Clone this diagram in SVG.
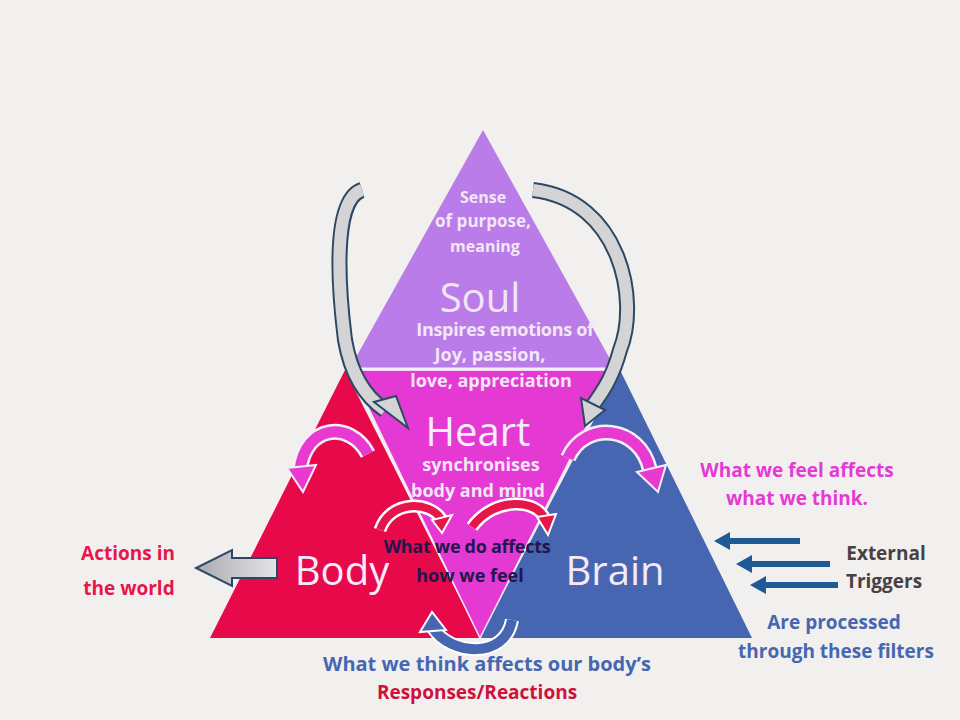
<svg xmlns="http://www.w3.org/2000/svg" width="960" height="720" viewBox="0 0 960 720">
<defs>
<linearGradient id="g" x1="0" y1="0" x2="1" y2="0"><stop offset="0" stop-color="#a9aab0"/><stop offset="1" stop-color="#e4e4e8"/></linearGradient>
<style>
text{font-family:"Open Sans","Noto Sans",sans-serif;text-anchor:middle}
.w{fill:#f3e6f7;font-weight:bold;font-size:16px}
.big{fill:#f5eaf8;font-size:40px}
.arcP{fill:none;stroke:#f2f0f8;stroke-width:16}
.arcPi{fill:none;stroke:#e83ad0;stroke-width:11}
.arcR{fill:none;stroke:#fff;stroke-width:13}
.arcRi{fill:none;stroke:#e8154a;stroke-width:8}
.ba{fill:#1f5a96}
.lb{font-weight:bold;font-size:19px}
</style>
</defs>
<rect width="960" height="720" fill="#f1f0ee"/>
<g id="soul"><polygon points="483,130 350,368 615,368" fill="#b97ce8"/>
<text class="w" x="483" y="203">Sense</text><text class="w" x="483" y="227" style="font-size:17px">of purpose,</text><text class="w" x="485" y="252">meaning</text>
<text class="big" x="480" y="312" style="fill:#f0e4f6">Soul</text>
<text class="w" x="505" y="336" style="font-size:18px;letter-spacing:-0.3px">Inspires emotions of</text><text class="w" x="490" y="361" style="font-size:18px">Joy, passion,</text></g>
<g id="body"><polygon points="345,370 210,638 480,638" fill="#e8094a"/></g>
<g id="brain"><polygon points="620,370 480,638 752,638" fill="#4766b1"/></g>
<g id="heart"><polygon points="350,370 615,370 480,638" fill="#e43ad3" stroke="#f4e8f4" stroke-width="1.5"/>
<line x1="350" y1="369" x2="615" y2="369" stroke="#f6eef8" stroke-width="3"/>
<text class="w" x="491" y="387" style="font-size:18px">love, appreciation</text>
<text class="big" x="478" y="446" style="fill:#f6eef8">Heart</text>
<text class="w" x="481" y="471" style="font-size:18px">synchronises</text><text class="w" x="478" y="497" style="font-size:18px">body and mind</text></g>
<g id="bodylabel"><text class="big" x="342" y="585">Body</text><text class="big" x="615" y="585">Brain</text>
<text x="467" y="553" style="fill:#23164f;font-size:18px;font-weight:bold;letter-spacing:-0.3px">What we do affects</text><text x="470" y="582" style="fill:#23164f;font-size:18px;font-weight:bold">how we feel</text></g>
<g id="connectors">
<path d="M362,190 C330,200 340,300 345,340 C352,380 370,400 385,410" fill="none" stroke="#2d4863" stroke-width="16"/>
<path d="M362,190 C330,200 340,300 345,340 C352,380 370,400 385,410" fill="none" stroke="#d4d4d6" stroke-width="12"/>
<polygon points="374,402 408,428 396,396" fill="#d4d4d6" stroke="#2d4863" stroke-width="2"/>
<path d="M533,190 C620,200 640,300 620,350 C612,380 600,395 593,405" fill="none" stroke="#2d4863" stroke-width="16"/>
<path d="M533,190 C620,200 640,300 620,350 C612,380 600,395 593,405" fill="none" stroke="#d4d4d6" stroke-width="12"/>
<polygon points="581,398 585,426 605,410" fill="#d4d4d6" stroke="#2d4863" stroke-width="2"/>
<path d="M368,454 C350,420 305,425 300,470" class="arcP"/><path d="M368,454 C350,420 305,425 300,470" class="arcPi"/>
<polygon points="287,468 303,492 316,465" fill="#e83ad0" stroke="#f2f0f8" stroke-width="2"/>
<path d="M568,458 C585,420 640,425 650,470" class="arcP"/><path d="M568,458 C585,420 640,425 650,470" class="arcPi"/>
<polygon points="637,472 658,492 666,465" fill="#e83ad0" stroke="#f2f0f8" stroke-width="2"/>
<path d="M380,530 C390,500 430,500 442,520" class="arcR"/><path d="M380,530 C390,500 430,500 442,520" class="arcRi"/>
<polygon points="432,520 442,533 452,515" fill="#e8154a" stroke="#fff" stroke-width="2"/>
<path d="M472,527 C495,495 540,500 545,520" class="arcR"/><path d="M472,527 C495,495 540,500 545,520" class="arcRi"/>
<polygon points="537,517 548,535 556,514" fill="#e8154a" stroke="#fff" stroke-width="2"/>
<path d="M433,628 C450,655 505,660 512,620" fill="none" stroke="#fff" stroke-width="14"/><path d="M433,628 C450,655 505,660 512,620" fill="none" stroke="#4766b1" stroke-width="10"/>
<polygon points="420,632 432,612 446,630" fill="#4766b1" stroke="#fff" stroke-width="2"/>
<polygon points="277,558 232,558 232,550 196,568 232,586 232,578 277,578" fill="url(#g)" stroke="#2d4863" stroke-width="2"/>
<polygon class="ba" points="800,538 730,538 730,532 714,541 730,550 730,544 800,544"/>
<polygon class="ba" points="830,561 752,561 752,555 736,564 752,573 752,567 830,567"/>
<polygon class="ba" points="838,582 766,582 766,576 750,585 766,594 766,588 838,588"/>
</g>
<g id="labels">
<text class="lb" x="128" y="560" fill="#e8154a">Actions in</text><text class="lb" x="129" y="595" fill="#e8154a">the world</text>
<text class="lb" x="797" y="477" fill="#e43ad3">What we feel affects</text><text class="lb" x="797" y="505" fill="#e43ad3">what we think.</text>
<text class="lb" x="886" y="560" fill="#4a4040">External</text><text class="lb" x="884" y="588" fill="#4a4040">Triggers</text>
<text class="lb" x="834" y="629" fill="#4766b1">Are processed</text><text class="lb" x="836" y="658" fill="#4766b1">through these filters</text>
<text x="487" y="671" fill="#4766b1" style="font-weight:bold;font-size:20px">What we think affects our body’s</text><text class="lb" x="477" y="699" fill="#d0103c">Responses/Reactions</text>
</g>
</svg>
